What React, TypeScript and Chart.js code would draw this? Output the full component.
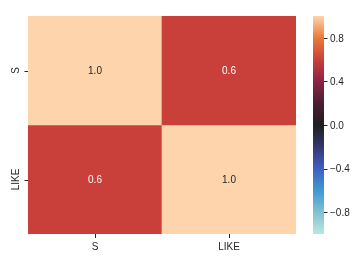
import React, { useEffect, useRef } from "react";
import { Chart, registerables } from "chart.js";
Chart.register(...registerables);

const rowLabels = ["S", "LIKE"];
const colLabels = ["S", "LIKE"];
const row0 = [1.0, 0.6];
const row1 = [0.6, 1.0];
const matrix = [row0, row1];
const cbTicks = [0.8, 0.4, 0.0, -0.4, -0.8];
const vmin = -1;
const vmax = 1;

const cmapStops: [number, string][] = [
  [0.0, "#bde6dd"],
  [0.1, "#7fc1d3"],
  [0.2, "#3f98d2"],
  [0.3, "#3d5fc2"],
  [0.4, "#33376f"],
  [0.5, "#1f1e1f"],
  [0.6, "#4c1d33"],
  [0.7, "#8d2446"],
  [0.8, "#c9403b"],
  [0.9, "#eb7a3c"],
  [1.0, "#fdd4ac"],
];

function hex(h: string) {
  return [parseInt(h.slice(1, 3), 16), parseInt(h.slice(3, 5), 16), parseInt(h.slice(5, 7), 16)];
}
function cmap(v: number) {
  const t = Math.max(0, Math.min(1, (v - vmin) / (vmax - vmin)));
  for (let i = 0; i < cmapStops.length - 1; i++) {
    const [t0, c0] = cmapStops[i];
    const [t1, c1] = cmapStops[i + 1];
    if (t >= t0 && t <= t1) {
      const f = (t - t0) / (t1 - t0);
      const a = hex(c0), b = hex(c1);
      const c = a.map((x, k) => Math.round(x + (b[k] - x) * f));
      return `rgb(${c[0]},${c[1]},${c[2]})`;
    }
  }
  return cmapStops[cmapStops.length - 1][1];
}

const FAMILY = "'Liberation Sans', Arial, sans-serif";
const FONT = `10px ${FAMILY}`;
const TXT = "#262626";

const heatPlugin = {
  id: "heatExtras",
  afterDatasetsDraw(chart: any) {
    const { ctx, chartArea, scales } = chart;
    const x = scales.x, y = scales.y;
    ctx.save();
    ctx.font = FONT;
    ctx.textAlign = "center";
    ctx.textBaseline = "middle";
    matrix.forEach((row, r) => {
      row.forEach((v, c) => {
        const px = x.getPixelForValue(c);
        const py = y.getPixelForValue(r + 0.5);
        ctx.fillStyle = v > 0.8 ? TXT : "#ffffff";
        ctx.fillText(v.toFixed(1), px, py + 1);
      });
    });
    rowLabels.forEach((lab, r) => {
      const py = y.getPixelForValue(r + 0.5);
      ctx.strokeStyle = TXT;
      ctx.lineWidth = 1;
      ctx.beginPath();
      ctx.moveTo(chartArea.left - 3.5, Math.round(py) + 0.5);
      ctx.lineTo(chartArea.left, Math.round(py) + 0.5);
      ctx.stroke();
      ctx.save();
      ctx.translate(chartArea.left - 7, py);
      ctx.rotate(-Math.PI / 2);
      ctx.fillStyle = TXT;
      ctx.textAlign = "center";
      ctx.textBaseline = "bottom";
      ctx.fillText(lab, 0, 0);
      ctx.restore();
    });
    const cbL = 313, cbR = 324;
    const top = chartArea.top, bot = chartArea.bottom;
    const g = ctx.createLinearGradient(0, bot, 0, top);
    cmapStops.forEach(([t, c]) => g.addColorStop(t, c));
    ctx.fillStyle = g;
    ctx.fillRect(cbL, top, cbR - cbL, bot - top);
    ctx.textAlign = "left";
    ctx.textBaseline = "middle";
    cbTicks.forEach((v) => {
      const py = bot - ((v - vmin) / (vmax - vmin)) * (bot - top);
      ctx.beginPath();
      ctx.moveTo(cbR, Math.round(py) + 0.5);
      ctx.lineTo(cbR + 3.5, Math.round(py) + 0.5);
      ctx.stroke();
      ctx.fillStyle = TXT;
      const s = v.toFixed(1).replace("-", "\u2212");
      ctx.fillText(s, cbR + 6, py + 1);
    });
    ctx.restore();
  },
};

export default function App() {
  const ref = useRef<HTMLCanvasElement>(null);
  useEffect(() => {
    if (!ref.current) return;
    const datasets = matrix.map((row, r) => ({
      data: row.map(() => [r, r + 1]),
      backgroundColor: row.map((v) => cmap(v)),
      borderWidth: 0,
      borderSkipped: false,
      grouped: false,
      categoryPercentage: 1,
      barPercentage: 1,
    }));
    const chart = new Chart(ref.current, {
      type: "bar",
      data: { labels: colLabels, datasets: datasets as any },
      options: {
        animation: false,
        responsive: false,
        layout: { padding: { top: 16, right: 68, left: 0, bottom: 0 } },
        plugins: { legend: { display: false }, tooltip: { enabled: false } },
        scales: {
          x: {
            offset: true,
            grid: { display: true, drawOnChartArea: false, offset: false, tickLength: 4, color: TXT, tickColor: TXT },
            border: { display: false },
            ticks: { color: TXT, font: { family: FAMILY, size: 10 }, padding: 3, maxRotation: 0 },
            afterFit: (s: any) => { s.height = 26; },
          },
          y: {
            min: 0,
            max: 2,
            reverse: true,
            grid: { display: false },
            border: { display: false },
            ticks: { display: false },
            afterFit: (s: any) => { s.width = 28; },
          },
        },
      },
      plugins: [heatPlugin],
    });
    return () => chart.destroy();
  }, []);
  return (
    <div style={{ position: "fixed", left: 0, top: 0, width: 364, height: 260, background: "#fff" }}>
      <canvas ref={ref} width={364} height={260} />
    </div>
  );
}
